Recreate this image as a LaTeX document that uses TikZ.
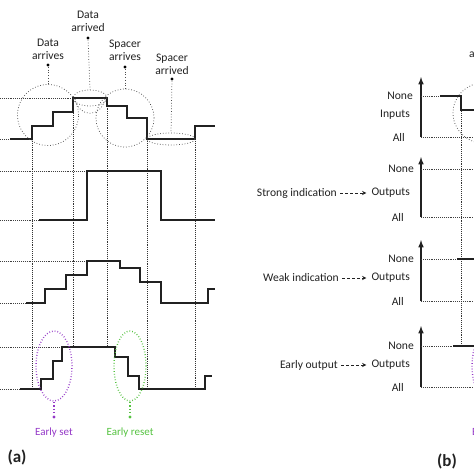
\documentclass[tikz,border=0pt]{standalone}
\usepackage{fontspec}
\setmainfont{Carlito}
\usepackage{tikz}
\usetikzlibrary{calc,shapes,arrows,positioning}
\definecolor{lilac}{rgb}{0.58,0.22,0.78}
\definecolor{leaf}{rgb}{0.33,0.76,0.25}
\definecolor{ink}{rgb}{0.13,0.13,0.13}
\tikzstyle{wave} = [line width=1.8pt, ink, line join=miter]
\tikzstyle{lvl} = [densely dotted, line width=0.9pt, black!75]
\tikzstyle{guide} = [densely dotted, line width=0.9pt, black!80]
\tikzstyle{ring} = [draw, dotted, line width=0.75pt, black!70, inner sep=0pt]
\tikzstyle{txt} = [inner sep=1pt, font=\fontsize{11.6}{13}\selectfont, align=center, text=ink]
\tikzstyle{axislab} = [txt, anchor=east]
\tikzstyle{dotmark} = [circle, fill, inner sep=0pt, minimum size=3.4pt]
\tikzstyle{axisarrow} = [line width=1.5pt, ink, -latex]
\tikzstyle{arrow} = [densely dashed, line width=0.9pt, ink, ->, >=stealth, shorten <=2pt, shorten >=4pt]
\tikzstyle{panel} = [inner sep=0pt, font=\fontsize{17}{17}\selectfont\bfseries, text=ink]

\begin{document}
\begin{tikzpicture}[x=1pt,y=-1pt]
\useasboundingbox (0,0) rectangle (474,474);
\clip (0,0) rectangle (474,474);

% (a) levels and guides
\draw[lvl] (0,98) -- (73,98);
\draw[lvl] (0,139) -- (10,139);
\draw[lvl] (0,171) -- (87,171);
\draw[lvl] (0,220) -- (39,220);
\draw[lvl] (0,261) -- (87,261);
\draw[lvl] (0,303) -- (26,303);
\draw[lvl] (0,347) -- (62,347);
\draw[lvl] (0,389) -- (20,389);
\draw[guide] (32,139) -- (32,389);
\draw[guide] (73,98) -- (73,347);
\draw[guide] (107,98) -- (107,347);
\draw[guide] (147,139) -- (147,389);
\draw[guide] (195,139) -- (195,389);

% (a) waveforms
\draw[wave] (10,139) -- (32,139) -- (32,126) -- (53,126) -- (53,112) -- (73,112) -- (73,98) -- (107,98) -- (107,106) -- (127,106) -- (127,118) -- (147,118) -- (147,139) -- (195,139) -- (195,126) -- (215,126);
\draw[wave] (39,220) -- (87,220) -- (87,171) -- (161,171) -- (161,220) -- (215,220);
\draw[wave] (26,303) -- (45,303) -- (45,289) -- (66,289) -- (66,275) -- (87,275) -- (87,261) -- (120,261) -- (120,268) -- (140,268) -- (140,282) -- (161,282) -- (161,303) -- (208,303) -- (208,289) -- (215,289);
\draw[wave] (20,389) -- (41,389) -- (41,379) -- (53,379) -- (53,361) -- (62,361) -- (62,347) -- (115,347) -- (115,357) -- (128,357) -- (128,376) -- (139,376) -- (139,389) -- (205,389) -- (205,376) -- (212,376);

% (a) phases
\node (darrives)[ring, circle, minimum size=61pt] at (48,115) {};
\node (darrived)[ring, ellipse, minimum width=34pt, minimum height=16pt] at (90,98) {};
\draw[ring] (75,99) .. controls (79,118) and (101,118) .. (105,99);
\node (sarrives)[ring, circle, minimum size=58pt] at (125,118) {};
\node (sarrived)[ring, ellipse, minimum width=48pt, minimum height=12pt] at (171,139) {};
\node (tdarrives)[txt] at (48,49.5) {Data\\arrives};
\node (tdarrived)[txt] at (88,21.5) {Data\\arrived};
\node (tsarrives)[txt] at (125,50.5) {Spacer\\arrives};
\node (tsarrived)[txt] at (172,64) {Spacer\\arrived};
\node (pdarrives)[dotmark] at (48,65) {};
\node (pdarrived)[dotmark] at (88,38) {};
\node (psarrives)[dotmark] at (125,67) {};
\node (psarrived)[dotmark] at (172,79) {};
\draw[ring] (pdarrives) -- (darrives.north);
\draw[ring] (pdarrived) -- (darrived.north);
\draw[ring] (psarrives) -- (sarrives.north);
\draw[ring] (psarrived) -- (sarrived.north);

% (a) early output
\node (eset)[ring, ellipse, draw=lilac, dotted, line width=1.4pt, minimum width=36pt, minimum height=70pt] at (54,366) {};
\node (ereset)[ring, ellipse, draw=leaf, dotted, line width=1.4pt, minimum width=32pt, minimum height=70pt] at (130,366) {};
\node (peset)[dotmark, lilac] at (54,417) {};
\node (pereset)[dotmark, leaf] at (130,417) {};
\draw[lilac, dotted, line width=1.4pt] (eset.south) -- (peset);
\draw[leaf, dotted, line width=1.4pt] (ereset.south) -- (pereset);
\node (teset)[txt, text=lilac, font=\fontsize{11}{13}\selectfont] at (54,433) {Early set};
\node (tereset)[txt, text=leaf, font=\fontsize{11}{13}\selectfont] at (130,433) {Early reset};
\node (pa)[panel] at (17,457) {(a)};

% (b) axes
\draw[axisarrow] (421,137) -- (421,77);
\draw[axisarrow] (421,217) -- (421,157);
\draw[axisarrow] (421,301) -- (421,240);
\draw[axisarrow] (421,387) -- (421,326);
\draw[lvl] (421,96) -- (440,96);
\draw[lvl] (421,137) -- (474,137);
\draw[lvl] (421,169) -- (474,169);
\draw[lvl] (421,217) -- (474,217);
\draw[lvl] (421,259) -- (457,259);
\draw[lvl] (421,301) -- (474,301);
\draw[lvl] (421,346) -- (453,346);
\draw[lvl] (421,387) -- (474,387);
\draw[guide] (461,96) -- (461,346);
\draw[wave] (440,96) -- (461,96) -- (461,110) -- (476,110);
\draw[wave] (457,259) -- (476,259);
\draw[wave] (453,346) -- (476,346);

\node (none1)[axislab] at (414,96) {None};
\node (in1)[axislab] at (411,115) {Inputs};
\node (all1)[axislab] at (406,137) {All};
\node (none2)[axislab] at (415,169) {None};
\node (out2)[axislab] at (411,193) {Outputs};
\node (all2)[axislab] at (405,217) {All};
\node (none3)[axislab] at (415,259) {None};
\node (out3)[axislab] at (411,278) {Outputs};
\node (all3)[axislab] at (405,301) {All};
\node (none4)[axislab] at (415,346) {None};
\node (out4)[axislab] at (411,365) {Outputs};
\node (all4)[axislab] at (405,387) {All};
\node (strong)[axislab] at (338,193) {Strong indication};
\node (weak)[axislab] at (340,278) {Weak indication};
\node (early)[axislab] at (339,365) {Early output};
\draw[arrow] (strong) -- (out2);
\draw[arrow] (weak) -- (out3);
\draw[arrow] (early) -- (out4);

% (b) cut-off phases
\node (bdarrives)[ring, circle, minimum size=60pt] at (483,113) {};
\node (tbdarrives)[txt] at (485,47) {Data\\arrives};
\node (beset)[ring, ellipse, draw=lilac, dotted, line width=1.4pt, minimum width=36pt, minimum height=70pt] at (490,366) {};
\node (tbeset)[txt, text=lilac, font=\fontsize{11}{13}\selectfont, anchor=west] at (471,433) {Early set};
\node (pb)[panel] at (447,461) {(b)};
\end{tikzpicture}
\end{document}
